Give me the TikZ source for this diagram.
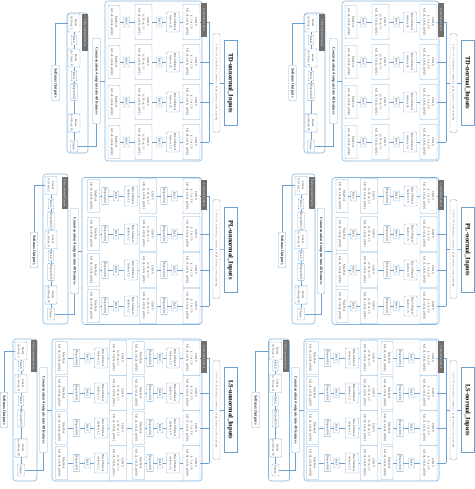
\documentclass[tikz,border=0pt]{standalone}
\usepackage{fontspec}
\setmainfont{Liberation Serif}
\definecolor{linkblue}{RGB}{106,160,210}
\definecolor{boxblue}{RGB}{130,180,222}
\definecolor{tabgray}{RGB}{112,112,112}
\definecolor{notegray}{RGB}{175,175,175}

% layer texts
\newcommand{\convin}{CONV\\ic: 1 oc: 16\\k:(1,\kw), s:(1,1), p:(0,0)}
\newcommand{\convout}{CONV\\ic: 16 oc: 12\\k:(1,3), s:(1,1), p:(0,1)}
\newcommand{\bnA}{Batch Normal\\ization: 16}
\newcommand{\bnB}{Batch Normal\\ization: 12}
\newcommand{\poolA}{MaxPool\\k:(1,4), s:(1,4), p:(0,0)}
\newcommand{\poolB}{MaxPool\\k:(1,2), s:(1,2), p:(0,0)}
\newcommand{\notetext}{X: N×1×C×L, N: batch size, C: channels, L: length, k: kernel, s: stride, p: padding}

\begin{document}
\begin{tikzpicture}[x=1pt, y=-1pt,
  link/.style={draw=linkblue, line width=0.55pt},
  box/.style={draw=boxblue, line width=0.45pt, fill=white, rounded corners=0.8pt,
    rotate=-90, align=center, inner sep=0.8pt, text=black!80,
    font=\fontsize{3}{4.2}\selectfont},
  conv/.style={box, minimum width=35, minimum height=17},
  bn/.style={box, minimum width=20, minimum height=13},
  relu/.style={box, minimum width=10, minimum height=5.5},
  drop/.style={box, minimum width=16, minimum height=6.5},
  pool/.style={box, minimum width=33, minimum height=12},
  lin/.style={box, minimum width=18, minimum height=12},
  flat/.style={box, minimum width=12, minimum height=7},
  cat/.style={box, minimum width=85, minimum height=7.5, font=\fontsize{3.9}{4.5}\selectfont\bfseries},
  outp/.style={box, minimum width=35, minimum height=7.5, font=\fontsize{4}{4.5}\selectfont\bfseries},
  group/.style={draw=boxblue, line width=0.6pt, rounded corners=3pt, inner sep=0pt},
  tab/.style={fill=tabgray, text=white, rotate=-90, minimum height=6, inner sep=0.5pt,
    font=\fontsize{2.8}{3}\selectfont},
  title/.style={draw=linkblue, line width=0.7pt, fill=white, rotate=-90, minimum width=85,
    minimum height=13, font=\fontsize{6.5}{7}\selectfont\bfseries},
  note/.style={draw=notegray, line width=0.4pt, rounded corners=1.5pt, rotate=-90,
    minimum width=99, minimum height=7, inner sep=0.5pt, text=black!65,
    font=\fontsize{2.3}{2.6}\selectfont}
]
\useasboundingbox (0,0) rectangle (474,489);

% TD panels (normal right, unnormal left)
\foreach \ox/\pn/\ttl in {237/tdn/TD-normal, 0/tdu/TD-unnormal} {
\begin{scope}[shift={(\ox,0)}]
  \node[group, minimum width=97, minimum height=160] (\pn-conv) at (153.5,81) {};
  \node[group, minimum width=21, minimum height=140] (\pn-fc) at (77.5,83) {};
  \node[title] (\pn) at (230.5,83) {\ttl\_Inputs};
  \node[note] (\pn-note) at (216.5,83) {\notetext};
  \draw[link] (\pn) -- (\pn-note);
  \foreach \y/\kw [count=\br] in {22/3,62/5,102/7,142/9} {
    \coordinate (\pn-bus\br) at (209,\y);
    \foreach \x/\s/\txt [count=\i, remember=\i as \j (initially 0)] in
      {191.5/conv/\convin, 173/bn/\bnA, 159.5/relu/ReLU, 143.5/conv/\convout, 126.5/relu/ReLU, 114/pool/\poolA} {
      \node[\s] (\pn-\br-\i) at (\x,\y) {\txt};
      \ifnum\i=1 \draw[link] (\pn-bus\br) -- (\pn-\br-\i);
      \else \draw[link] (\pn-\br-\j) -- (\pn-\br-\i); \fi
    }
  }
  \draw[link] (\pn-bus1) -- (\pn-bus4);
  \draw[link] (\pn-note) -- (\pn-note -| \pn-bus1);
  \node[tab, minimum width=34] (\pn-tab1) at (204,20) {Convolution Layers};
  % fully connected part
  \node[cat] (\pn-cat) at (96.5,81) {Concatenation 4 outputs into 48 features};
  \draw[link] (\pn-cat) -- (\pn-cat -| \pn-conv.west);
  \foreach \y/\s/\txt [count=\i, remember=\i as \j (initially 0)] in
    {146/flat/Flatten, 123/lin/{Linear\\in: 48 out: 16}, 92/drop/{Dropout(0.5)}, 76/relu/ReLU,
     58/lin/{Linear\\in: 16 out: 8}, 40/relu/ReLU, 23/lin/{Linear\\in: 8 out: 2}} {
    \node[\s] (\pn-fc\i) at (74,\y) {\txt};
    \ifnum\i=1 \draw[link] (\pn-cat) |- (\pn-fc\i);
    \else \draw[link] (\pn-fc\j) -- (\pn-fc\i); \fi
  }
  \node[tab, minimum width=37] (\pn-tab2) at (85,33) {Fully Connected Layers};
  \node[outp] (\pn-out) at (55.5,83) {Softmax Outputs};
  \draw[link] (\pn-fc7) -| (\pn-out);
\end{scope}
}

% PL-normal_Inputs
\begin{scope}[shift={(237,163)}]
  \node[group, minimum width=107, minimum height=147] (pln-conv) at (148.5,88) {};
  \node[group, minimum width=23, minimum height=150] (pln-fc) at (66.5,86) {};
  \node[title] (pln) at (230.5,87) {PL-normal\_Inputs};
  \node[note] (pln-note) at (216.5,86) {\notetext};
  \draw[link] (pln) -- (pln-note);
  \foreach \y/\kw [count=\br] in {33/3,71/5,107/7,143/9} {
    \coordinate (pln-bus\br) at (209,\y);
    \foreach \x/\s/\txt [count=\i, remember=\i as \j (initially 0)] in
      {191.5/conv/\convin, 173.5/bn/\bnA, 159.5/relu/ReLU, 150/drop/{Dropout(0.1)},
       132/conv/\convout, 116.5/relu/ReLU, 105/pool/\poolA} {
      \node[\s] (pln-\br-\i) at (\x,\y) {\txt};
      \ifnum\i=1 \draw[link] (pln-bus\br) -- (pln-\br-\i);
      \else \draw[link] (pln-\br-\j) -- (pln-\br-\i); \fi
    }
  }
  \draw[link] (pln-bus1) -- (pln-bus4);
  \draw[link] (pln-note) -- (pln-note -| pln-bus1);
  \node[tab, minimum width=30] (pln-tab1) at (204,32) {Convolution Layers};
  \node[cat] (pln-cat) at (84,88) {Concatenation 4 outputs into 48 features};
  \draw[link] (pln-cat) -- (pln-cat -| pln-conv.west);
  \foreach \y/\s/\txt [count=\i, remember=\i as \j (initially 0)] in
    {151/flat/Flatten, 132/lin/{Linear\\in: 48 out: 16}, 109/drop/{Dropout(0.5)}, 92.5/relu/ReLU,
     76.5/lin/{Linear\\in: 16 out: 8}, 57.5/drop/{Dropout(0.5)}, 41/relu/ReLU, 22.5/lin/{Linear\\in: 8 out: 2}} {
    \node[\s] (pln-fc\i) at (64,\y) {\txt};
    \ifnum\i=1 \draw[link] (pln-cat) |- (pln-fc\i);
    \else \draw[link] (pln-fc\j) -- (pln-fc\i); \fi
  }
  \node[tab, minimum width=32] (pln-tab2) at (75,30) {Fully Connected Layers};
  \node[outp] (pln-out) at (45,87) {Softmax Outputs};
  \draw[link] (pln-fc8) -| (pln-out);
\end{scope}

% PL-unnormal_Inputs
\begin{scope}[shift={(0,163)}]
  \node[group, minimum width=120, minimum height=147] (plu-conv) at (142,88) {};
  \node[group, minimum width=25, minimum height=150] (plu-fc) at (55.5,86) {};
  \node[title] (plu) at (230.5,87) {PL-unnormal\_Inputs};
  \node[note] (plu-note) at (216.5,86) {\notetext};
  \draw[link] (plu) -- (plu-note);
  \foreach \y/\kw [count=\br] in {33/3,71/5,107/7,143/9} {
    \coordinate (plu-bus\br) at (209,\y);
    \foreach \x/\s/\txt [count=\i, remember=\i as \j (initially 0)] in
      {191.5/conv/\convin, 174.5/relu/ReLU, 164/drop/{Dropout(0.1)}, 148/conv/\convout,
       131/bn/\bnB, 116/relu/ReLU, 105/drop/{Dropout(0.1)}, 93.5/pool/\poolA} {
      \node[\s] (plu-\br-\i) at (\x,\y) {\txt};
      \ifnum\i=1 \draw[link] (plu-bus\br) -- (plu-\br-\i);
      \else \draw[link] (plu-\br-\j) -- (plu-\br-\i); \fi
    }
  }
  \draw[link] (plu-bus1) -- (plu-bus4);
  \draw[link] (plu-note) -- (plu-note -| plu-bus1);
  \node[tab, minimum width=30] (plu-tab1) at (204,32) {Convolution Layers};
  \node[cat] (plu-cat) at (74.5,88) {Concatenation 4 outputs into 48 features};
  \draw[link] (plu-cat) -- (plu-cat -| plu-conv.west);
  \foreach \y/\s/\txt [count=\i, remember=\i as \j (initially 0)] in
    {151/flat/Flatten, 132/lin/{Linear\\in: 48 out: 16}, 109/drop/{Dropout(0.5)}, 92.5/relu/ReLU,
     76.5/lin/{Linear\\in: 16 out: 8}, 57.5/drop/{Dropout(0.5)}, 41/relu/ReLU, 22.5/lin/{Linear\\in: 8 out: 2}} {
    \node[\s] (plu-fc\i) at (51,\y) {\txt};
    \ifnum\i=1 \draw[link] (plu-cat) |- (plu-fc\i);
    \else \draw[link] (plu-fc\j) -- (plu-fc\i); \fi
  }
  \node[tab, minimum width=32] (plu-tab2) at (64.5,30) {Fully Connected Layers};
  \node[outp] (plu-out) at (34,87) {Softmax Outputs};
  \draw[link] (plu-fc8) -| (plu-out);
\end{scope}

% LS-normal_Inputs
\begin{scope}[shift={(237,326)}]
  \node[group, minimum width=135, minimum height=142] (lsn-conv) at (134.5,84) {};
  \node[group, minimum width=21, minimum height=142] (lsn-fc) at (42,84) {};
  \node[title] (lsn) at (230.5,84) {LS-normal\_Inputs};
  \node[note] (lsn-note) at (216.5,84) {\notetext};
  \draw[link] (lsn) -- (lsn-note);
  \foreach \y/\kw [count=\br] in {32/3,67/5,102/7,137/9} {
    \coordinate (lsn-bus\br) at (209,\y);
    \foreach \x/\s/\txt [count=\i, remember=\i as \j (initially 0)] in
      {191.5/conv/\convin, 174.5/relu/ReLU, 163/drop/{Dropout(0.1)}, 150/pool/\poolB, 132/conv/\convout,
       115/bn/\bnB, 99.5/relu/ReLU, 90.5/drop/{Dropout(0.1)}, 75.5/pool/\poolA} {
      \node[\s] (lsn-\br-\i) at (\x,\y) {\txt};
      \ifnum\i=1 \draw[link] (lsn-bus\br) -- (lsn-\br-\i);
      \else \draw[link] (lsn-\br-\j) -- (lsn-\br-\i); \fi
    }
  }
  \draw[link] (lsn-bus1) -- (lsn-bus4);
  \draw[link] (lsn-note) -- (lsn-note -| lsn-bus1);
  \node[tab, minimum width=32] (lsn-tab1) at (204,31) {Convolution Layers};
  \node[cat] (lsn-cat) at (58.5,84) {Concatenation 4 outputs into 48 features};
  \draw[link] (lsn-cat) -- (lsn-cat -| lsn-conv.west);
  \foreach \y/\s/\txt [count=\i, remember=\i as \j (initially 0)] in
    {144/flat/Flatten, 122/lin/{Linear\\in: 48 out: 16}, 92.5/drop/{Dropout(0.5)}, 75/relu/ReLU,
     57.5/lin/{Linear\\in: 16 out: 8}, 40/relu/ReLU, 25/lin/{Linear\\in: 8 out: 2}} {
    \node[\s] (lsn-fc\i) at (38.5,\y) {\txt};
    \ifnum\i=1 \draw[link] (lsn-cat) |- (lsn-fc\i);
    \else \draw[link] (lsn-fc\j) -- (lsn-fc\i); \fi
  }
  \node[tab, minimum width=32] (lsn-tab2) at (48.5,30) {Fully Connected Layers};
  \node[outp] (lsn-out) at (18.5,84) {Softmax Outputs};
  \draw[link] (lsn-fc7) -| (lsn-out);
\end{scope}

% LS-unnormal_Inputs
\begin{scope}[shift={(0,326)}]
  \node[group, minimum width=150, minimum height=142] (lsu-conv) at (127,84) {};
  \node[group, minimum width=24, minimum height=142] (lsu-fc) at (25,84) {};
  \node[title] (lsu) at (230.5,84) {LS-unnormal\_Inputs};
  \node[note] (lsu-note) at (216.5,84) {\notetext};
  \draw[link] (lsu) -- (lsu-note);
  \foreach \y/\kw [count=\br] in {32/3,67/5,102/7,137/9} {
    \coordinate (lsu-bus\br) at (209,\y);
    \foreach \x/\s/\txt [count=\i, remember=\i as \j (initially 0)] in
      {191.5/conv/\convin, 173/bn/\bnA, 160/relu/ReLU, 150/drop/{Dropout(0.1)}, 138.5/pool/\poolB,
       118/conv/\convout, 101/bn/\bnB, 87.5/relu/ReLU, 76.5/drop/{Dropout(0.1)}, 61.5/pool/\poolA} {
      \node[\s] (lsu-\br-\i) at (\x,\y) {\txt};
      \ifnum\i=1 \draw[link] (lsu-bus\br) -- (lsu-\br-\i);
      \else \draw[link] (lsu-\br-\j) -- (lsu-\br-\i); \fi
    }
  }
  \draw[link] (lsu-bus1) -- (lsu-bus4);
  \draw[link] (lsu-note) -- (lsu-note -| lsu-bus1);
  \node[tab, minimum width=32] (lsu-tab1) at (204,31) {Convolution Layers};
  \node[cat] (lsu-cat) at (43.5,84) {Concatenation 4 outputs into 48 features};
  \draw[link] (lsu-cat) -- (lsu-cat -| lsu-conv.west);
  \foreach \y/\s/\txt [count=\i, remember=\i as \j (initially 0)] in
    {144/flat/Flatten, 122/lin/{Linear\\in: 48 out: 16}, 92.5/drop/{Dropout(0.5)}, 75/relu/ReLU,
     57.5/lin/{Linear\\in: 16 out: 8}, 40/relu/ReLU, 25/lin/{Linear\\in: 8 out: 2}} {
    \node[\s] (lsu-fc\i) at (21,\y) {\txt};
    \ifnum\i=1 \draw[link] (lsu-cat) |- (lsu-fc\i);
    \else \draw[link] (lsu-fc\j) -- (lsu-fc\i); \fi
  }
  \node[tab, minimum width=32] (lsu-tab2) at (33.5,30) {Fully Connected Layers};
  \node[outp] (lsu-out) at (4,84) {Softmax Outputs};
  \draw[link] (lsu-fc7) -| (lsu-out);
\end{scope}
\end{tikzpicture}
\end{document}
